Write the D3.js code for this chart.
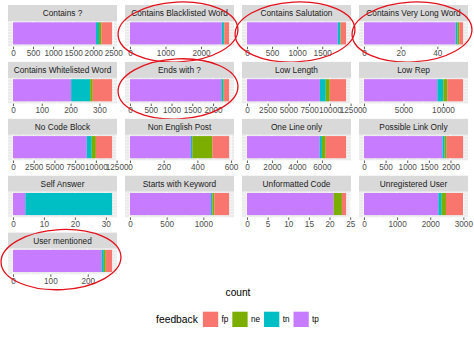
<!DOCTYPE html>
<html>
<head>
<meta charset="utf-8">
<script src="https://cdn.jsdelivr.net/npm/d3@7"></script>
<style>
  html, body { margin: 0; padding: 0; background: #fff; }
  svg { display: block; font-family: "Liberation Sans", Arial, sans-serif; }
</style>
</head>
<body>
<svg id="chart" width="474" height="338"></svg>
<script>
// ---- data ----
const facets = [
  "Contains ?", "Contains Blacklisted Word", "Contains Salutation", "Contains Very Long Word",
  "Contains Whitelisted Word", "Ends with ?", "Low Length", "Low Rep",
  "No Code Block", "Non English Post", "One Line only", "Possible Link Only",
  "Self Answer", "Starts with Keyword", "Unformatted Code", "Unregistered User",
  "User mentioned"
];
const tp = [2070, 2585, 1810, 50, 202, 2200, 8800, 9290, 8900, 362, 5820, 1815, 4, 1105, 21, 2245, 237];
const tn = [75, 60, 50, 1, 66, 50, 700, 750, 600, 8, 180, 50, 28, 18, 0, 100, 6];
const ne = [60, 15, 10, 1, 9, 15, 480, 510, 500, 119, 300, 45, 0, 27, 2, 130, 5];
const fp = [265, 130, 105, 2, 67, 120, 1970, 1990, 1950, 99, 1630, 380, 0, 200, 1, 515, 17];
const tickLabels = [
  [0, 500, 1000, 1500, 2000, 2500],
  [0, 1000, 2000],
  [0, 500, 1000, 1500],
  [0, 20, 40],
  [0, 100, 200, 300],
  [0, 500, 1000, 1500, 2000],
  [0, 2500, 5000, 7500, 10000, 12500],
  [0, 5000, 10000],
  [0, 2500, 5000, 7500, 10000, 12500],
  [0, 200, 400, 600],
  [0, 2000, 4000, 6000],
  [0, 500, 1000, 1500, 2000],
  [0, 10, 20, 30],
  [0, 500, 1000],
  [0, 5, 10, 15, 20, 25],
  [0, 1000, 2000, 3000],
  [0, 100, 200]
];
const levels = ["fp", "ne", "tn", "tp"];
const highlighted = ["Contains Blacklisted Word", "Contains Salutation", "Contains Very Long Word", "Ends with ?", "User mentioned"];

// ---- layout ----
const colors = { fp: "#F8766D", ne: "#7CAE00", tn: "#00BFC4", tp: "#C77CFF" };
const series = { fp, ne, tn, tp };
const ncol = 4, panelW = 109, colPitch = 117, left0 = 8;
const top0 = 5, rowPitch = 56.9, stripH = 16, panelH = 25.7;

const svg = d3.select("#chart");
const color = d3.scaleOrdinal().domain(levels).range(levels.map(l => colors[l]));

facets.forEach((name, i) => {
  const c = i % ncol, r = Math.floor(i / ncol);
  const px = left0 + c * colPitch;
  const sy = top0 + r * rowPitch;
  const py = sy + stripH;
  const g = svg.append("g");

  // strip
  g.append("rect").attr("x", px).attr("y", sy).attr("width", panelW).attr("height", stripH).attr("fill", "#D9D9D9");
  g.append("text").attr("x", px + panelW / 2).attr("y", sy + stripH / 2)
    .attr("text-anchor", "middle").attr("dominant-baseline", "central")
    .attr("font-size", "8.3px").attr("fill", "#1A1A1A").text(name);

  // panel
  g.append("rect").attr("x", px).attr("y", py).attr("width", panelW).attr("height", panelH).attr("fill", "#EBEBEB");

  const order = ["tp", "tn", "ne", "fp"];
  const vals = order.map(k => series[k][i]);
  const total = d3.sum(vals);
  const x = d3.scaleLinear().domain([-0.05 * total, 1.05 * total]).range([px, px + panelW]);
  const y = d3.scaleLinear().domain([0, 1]).range([py + panelH, py]);

  // horizontal faint lines
  d3.range(py + 1.5, py + panelH, 3).forEach(yy => {
    g.append("line").attr("x1", px).attr("x2", px + panelW).attr("y1", yy).attr("y2", yy)
      .attr("stroke", "#fff").attr("stroke-width", 0.6).attr("opacity", 0.8);
  });
  // vertical grid (major + minor)
  const tv = tickLabels[i];
  const step = tv[1] - tv[0];
  const minor = d3.range(tv[0] - step / 2, x.domain()[1], step).filter(v => v > x.domain()[0]);
  minor.forEach(v => g.append("line").attr("x1", x(v)).attr("x2", x(v)).attr("y1", py).attr("y2", py + panelH)
    .attr("stroke", "#fff").attr("stroke-width", 0.5));
  tv.forEach(v => g.append("line").attr("x1", x(v)).attr("x2", x(v)).attr("y1", py).attr("y2", py + panelH)
    .attr("stroke", "#fff").attr("stroke-width", 1));

  // stacked bar
  let cum = 0;
  const segs = order.map((k, j) => { const s = { key: k, x0: cum, x1: cum + vals[j] }; cum += vals[j]; return s; });
  g.selectAll("rect.seg").data(segs.filter(s => s.x1 > s.x0)).enter().append("rect")
    .attr("class", "seg")
    .attr("x", d => x(d.x0)).attr("width", d => x(d.x1) - x(d.x0))
    .attr("y", y(0.95)).attr("height", y(0.09) - y(0.95))
    .attr("fill", d => color(d.key));

  // axis
  const ax = g.append("g").attr("transform", `translate(0,${py + panelH})`)
    .call(d3.axisBottom(x).tickValues(tv).tickFormat(d3.format("d")).tickSize(2.5).tickPadding(0.9));
  ax.select(".domain").remove();
  ax.selectAll(".tick line").attr("stroke", "#333333").attr("stroke-width", 0.8);
  ax.selectAll(".tick text").attr("fill", "#4D4D4D").attr("font-size", "8.2px")
    .attr("font-family", "Liberation Sans, Arial, sans-serif");

  // annotation ellipse
  if (highlighted.includes(name)) {
    svg.append("ellipse")
      .attr("cx", px + panelW / 2 - 1.5).attr("cy", sy + 27)
      .attr("rx", 60).attr("ry", 30)
      .attr("fill", "none").attr("stroke", "#E3111B").attr("stroke-width", 1.3)
      .attr("transform", `rotate(-3,${px + panelW / 2 - 1.5},${sy + 27})`);
  }
});

// axis title
svg.append("text").attr("x", 238).attr("y", 295.5).attr("text-anchor", "middle")
  .attr("font-size", "10.2px").attr("fill", "#000").text("count");

// legend
const lg = svg.append("g");
const title = lg.append("text").attr("x", 0).attr("y", 323).attr("font-size", "10.3px").attr("fill", "#000").text("feedback");
let cx = title.node().getComputedTextLength() + 5;
const keyW = 15.3;
levels.forEach(l => {
  lg.append("rect").attr("x", cx).attr("y", 311.7).attr("width", keyW).attr("height", keyW).attr("fill", color(l));
  const t = lg.append("text").attr("x", cx + keyW + 3.3).attr("y", 322.2).attr("font-size", "8.2px").attr("fill", "#000").text(l);
  cx += keyW + 3.3 + t.node().getComputedTextLength() + 4;
});
const lw = cx - 4;
lg.attr("transform", `translate(${237.5 - lw / 2},0)`);
</script>
</body>
</html>
